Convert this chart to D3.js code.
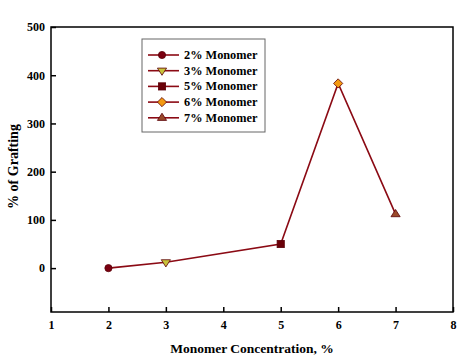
<!DOCTYPE html>
<html><head><meta charset="utf-8">
<script src="https://cdn.jsdelivr.net/npm/d3@7"></script>
<style>body{margin:0;background:#fff}svg{display:block}text{font-family:"Liberation Serif","Times New Roman",serif;font-weight:bold}</style>
</head><body><div id="c"></div>
<script>
const categories = ["2% Monomer","3% Monomer","5% Monomer","6% Monomer","7% Monomer"];
const concentrations = [2,3,5,6,7];
const grafting = [0,12,50,383,112];
const xTicks = [1,2,3,4,5,6,7,8];
const yTicks = [0,100,200,300,400,500];
const markerShapes = ["circle","triDown","square","diamond","triUp"];
const markerFills = ["#7a0010","#c8c23a","#6a0008","#f39a12","#9a4a2a"];

const W=474,H=362, m={l:51,t:27,r:21,b:50};
const svg=d3.select("#c").append("svg").attr("width",W).attr("height",H);
const x=d3.scaleLinear().domain([1,8]).range([m.l,W-m.r]);
const y=d3.scaleLinear().domain([-91,500]).range([H-m.b,m.t]);
const lineColor="#8b0a14";

svg.append("rect").attr("x",m.l).attr("y",m.t).attr("width",W-m.r-m.l).attr("height",H-m.b-m.t)
  .attr("fill","none").attr("stroke","#000").attr("stroke-width",1.5);

const xa=svg.append("g").attr("transform",`translate(0,${H-m.b})`)
  .call(d3.axisBottom(x).tickValues(xTicks).tickSize(-5).tickPadding(8).tickFormat(d3.format("d")));
xa.select(".domain").remove();
xa.selectAll("line").attr("stroke-width",1.5);
xa.selectAll("text").attr("font-size",12).attr("fill","#000");
const ya=svg.append("g").attr("transform",`translate(${m.l},0)`)
  .call(d3.axisLeft(y).tickValues(yTicks).tickSize(-5).tickPadding(6).tickFormat(d3.format("d")));
ya.select(".domain").remove();
ya.selectAll("line").attr("stroke-width",1.5);
ya.selectAll("text").attr("font-size",12).attr("fill","#000");

svg.append("text").attr("x",(m.l+W-m.r)/2).attr("y",353).attr("text-anchor","middle").attr("font-size",13.5).text("Monomer Concentration, %");
svg.append("text").attr("transform",`translate(18,${(m.t+H-m.b)/2-3}) rotate(-90)`).attr("text-anchor","middle").attr("font-size",14).text("% of Grafting");

const pts=concentrations.map((c,i)=>({x:c,y:grafting[i],s:markerShapes[i],f:markerFills[i]}));
svg.append("path").datum(pts).attr("fill","none").attr("stroke",lineColor).attr("stroke-width",1.6)
  .attr("d",d3.line().x(d=>x(d.x)).y(d=>y(d.y)));

function marker(g,shape,fill){
  const s=3.6;
  let el;
  if(shape==="circle") el=g.append("circle").attr("r",s);
  else if(shape==="square") el=g.append("rect").attr("x",-s).attr("y",-s).attr("width",2*s).attr("height",2*s);
  else if(shape==="diamond") el=g.append("path").attr("d",`M0,${-s-1}L${s+1},0L0,${s+1}L${-s-1},0Z`);
  else if(shape==="triDown") el=g.append("path").attr("d",`M${-s-1},${-s+1}L${s+1},${-s+1}L0,${s+1}Z`);
  else el=g.append("path").attr("d",`M${-s-1},${s-1}L${s+1},${s-1}L0,${-s-1}Z`);
  el.attr("fill",fill).attr("stroke","#5a0008").attr("stroke-width",0.8);
}
pts.forEach(p=>marker(svg.append("g").attr("transform",`translate(${x(p.x)},${y(p.y)})`),p.s,p.f));

const lg=svg.append("g");
lg.append("rect").attr("x",142).attr("y",39).attr("width",123).attr("height",93).attr("fill","#fff").attr("stroke","#666").attr("stroke-width",1);
categories.forEach((c,i)=>{
  const yy=55+i*15.7;
  lg.append("line").attr("x1",148).attr("x2",179).attr("y1",yy).attr("y2",yy).attr("stroke",lineColor).attr("stroke-width",1.6);
  marker(lg.append("g").attr("transform",`translate(162,${yy})`),markerShapes[i],markerFills[i]);
  lg.append("text").attr("x",184).attr("y",yy+4).attr("font-size",12.3).text(c);
});
</script></body></html>
